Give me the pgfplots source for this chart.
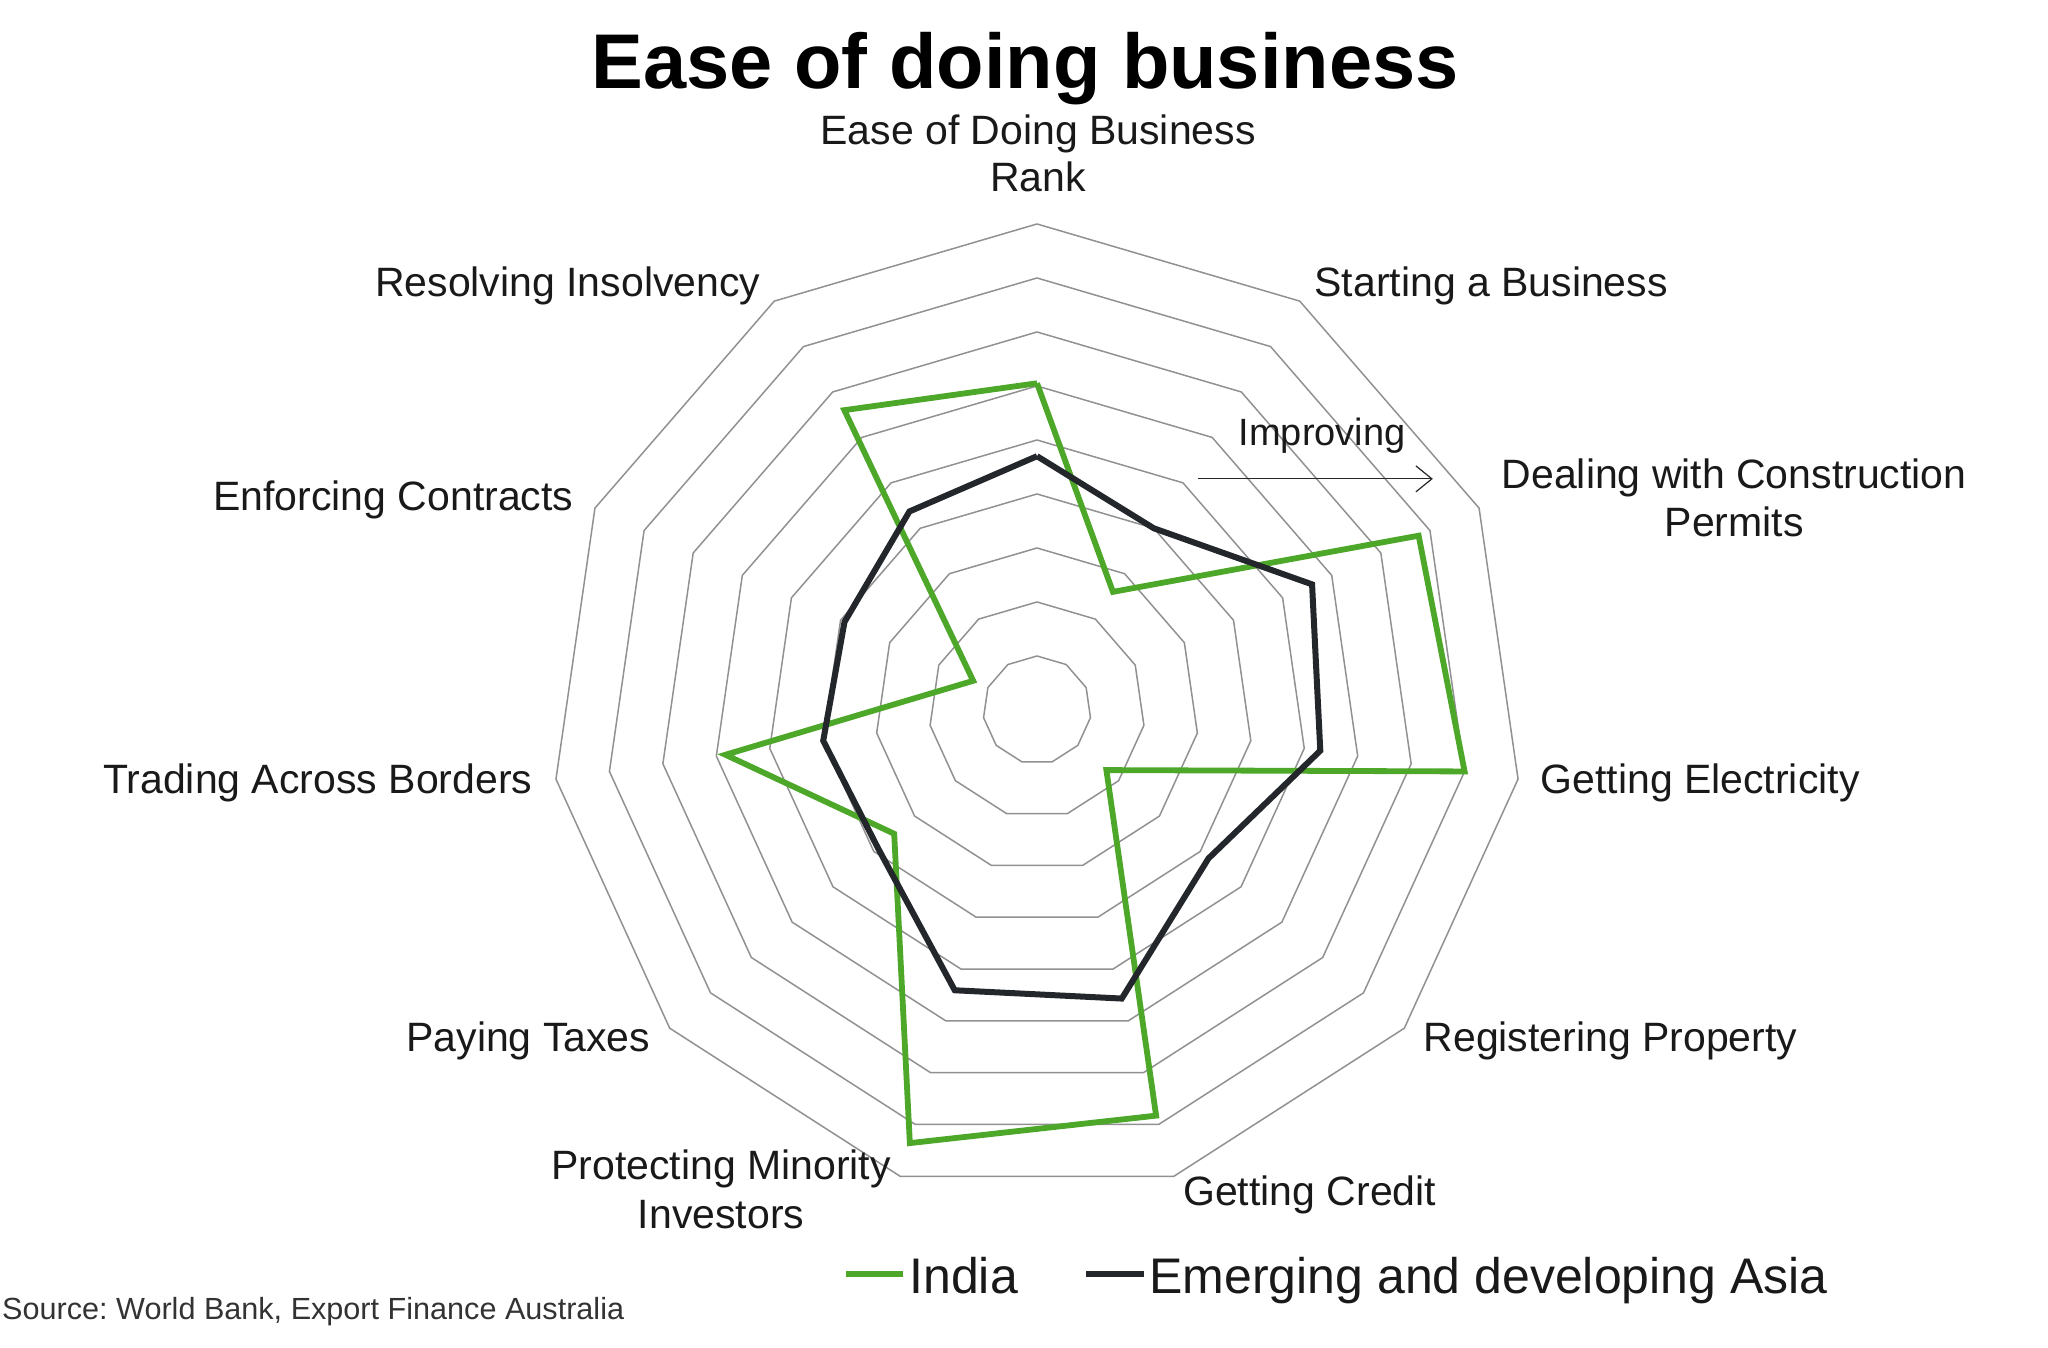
\documentclass[border=0pt]{standalone}
\usepackage{fontspec}
\setmainfont{Liberation Sans}
\usepackage{pgfplots}
\pgfplotsset{compat=1.18}
\usepackage{pgfplotstable}
\usetikzlibrary{arrows.meta}
\frenchspacing

\definecolor{india}{RGB}{77,168,41}
\definecolor{asia}{RGB}{35,38,42}
\definecolor{ring}{RGB}{145,145,145}

% radius in ring units (9 rings), axes clockwise from the top, last row closes the loop
\pgfplotstableread{
angle     india  asia
90        6.05   4.70
57.2727   2.60   4.00
24.5455   7.77   5.60
-8.1818   8.00   5.30
-40.9091  1.70   4.20
-73.6364  7.83   5.57
-106.3636 8.36   5.41
-139.0909 3.50   3.90
-171.8182 5.83   4.00
-204.5455 1.30   3.92
-237.2727 6.60   4.37
-270      6.05   4.70
}\scores

\begin{document}
\begin{tikzpicture}[every node/.style={inner sep=0pt, text=black!90, font=\fontsize{20.5}{24}\selectfont}]
\begin{axis}[
  x=27pt, y=27pt,
  xmin=-19.204, xmax=18.722,
  ymin=-11.815, ymax=13.148,
  enlargelimits=false,
  hide axis, clip=false,
]
\pgfplotsinvokeforeach{1,2,3,4,5,6,7,8,9}{
  \addplot[ring, line width=0.75pt, data cs=polar] table[x=angle, y expr=#1] {\scores};
}
\addplot[india, line width=2.9pt, data cs=polar] table[x=angle, y=india] {\scores};
\addplot[asia, line width=3pt, data cs=polar] table[x=angle, y=asia] {\scores};

% title
\node[anchor=base, font=\fontsize{38.8}{44}\selectfont\bfseries, text=black] at (axis cs:-0.22,11.5) {Ease of doing business};

% category labels
\node[anchor=base] at (axis cs:0.02,10.47) {Ease of Doing Business};
\node[anchor=base] at (axis cs:0.02,9.60) {Rank};
\node[anchor=base] at (axis cs:8.41,7.65) {Starting a Business};
\node[anchor=base] at (axis cs:12.91,4.11) {Dealing with Construction};
\node[anchor=base] at (axis cs:12.91,3.22) {Permits};
\node[anchor=base] at (axis cs:12.28,-1.54) {Getting Electricity};
\node[anchor=base] at (axis cs:10.62,-6.33) {Registering Property};
\node[anchor=base] at (axis cs:5.05,-9.17) {Getting Credit};
\node[anchor=base] at (axis cs:-5.85,-8.70) {Protecting Minority};
\node[anchor=base] at (axis cs:-5.85,-9.61) {Investors};
\node[anchor=base] at (axis cs:-9.42,-6.33) {Paying Taxes};
\node[anchor=base] at (axis cs:-13.32,-1.54) {Trading Across Borders};
\node[anchor=base] at (axis cs:-11.92,3.69) {Enforcing Contracts};
\node[anchor=base] at (axis cs:-8.69,7.65) {Resolving Insolvency};

% improving arrow
\node[anchor=base, font=\fontsize{19}{22}\selectfont] at (axis cs:5.28,4.89) {Improving};
\draw[black!85, line width=0.6pt, -{Straight Barb[length=8pt,width=13pt]}] (axis cs:2.98,4.28) -- (axis cs:7.33,4.28);

% legend
\draw[india, line width=2.8pt] (axis cs:-3.537,-10.44) -- (axis cs:-2.481,-10.44);
\node[anchor=base west, font=\fontsize{25}{30}\selectfont] at (axis cs:-2.37,-10.80) {India};
\draw[asia, line width=2.9pt] (axis cs:0.907,-10.44) -- (axis cs:1.981,-10.44);
\node[anchor=base west, font=\fontsize{25}{30}\selectfont] at (axis cs:2.074,-10.80) {Emerging and developing Asia};

% source
\node[anchor=base west, font=\fontsize{15.3}{18}\selectfont, text=black!80] at (axis cs:-19.17,-11.28) {Source: World Bank, Export Finance Australia};

\path (axis cs:-19.204,-11.815) rectangle (axis cs:18.722,13.148);
\end{axis}
\end{tikzpicture}
\end{document}
